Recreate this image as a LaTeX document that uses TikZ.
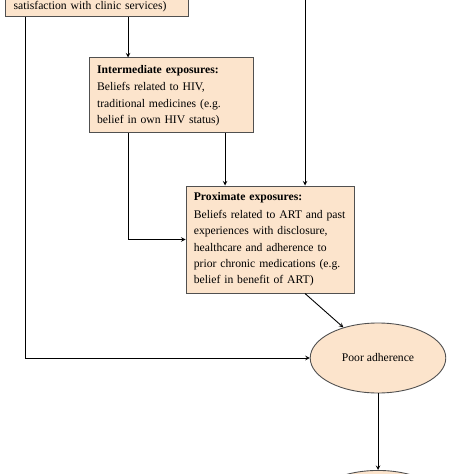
\documentclass[tikz,border=0pt]{standalone}
\usepackage{fontspec}
\setmainfont{Liberation Serif}
\usetikzlibrary{shapes.geometric, arrows, positioning}
\definecolor{peach}{RGB}{252,228,204}
\definecolor{frame}{RGB}{80,80,80}
\tikzstyle{exposure} = [rectangle, draw=frame, line width=0.9pt, fill=peach, inner xsep=7pt, inner ysep=4pt, align=left, font=\fontsize{10.5}{14.8}\selectfont]
\tikzstyle{outcome} = [ellipse, draw=frame, line width=0.8pt, fill=peach, minimum width=122pt, minimum height=63pt, font=\fontsize{10.5}{12}\selectfont]
\tikzstyle{arrow} = [thick,->,>=stealth]

\begin{document}
\begin{tikzpicture}[x=0.9pt, y=-0.9pt]
		\clip (0,0) rectangle (474,474);
		\fill[white] (0,0) rectangle (474,474);
		\node (distal) [exposure, anchor=south west, minimum width=164.7pt, text width=150pt] at (5,17) {\rule{0pt}{30pt}satisfaction with clinic services)};
		\coordinate (social) at (305,-10);
		\node (inter) [exposure, minimum width=147.6pt, minimum height=67.5pt, text width=133pt] at (171,95.5) {\textbf{Intermediate exposures:}\\[1pt] Beliefs related to HIV,\\ traditional medicines (e.g.\\ belief in own HIV status)};
		\node (prox) [exposure, minimum width=152pt, minimum height=96.3pt, text width=138pt] at (270.5,239.5) {\textbf{Proximate exposures:}\\[1pt] Beliefs related to ART and past\\ experiences with disclosure,\\ healthcare and adherence to\\ prior chronic medications (e.g.\\ belief in benefit of ART)};
		\node (poor) [outcome] at (378,358) {Poor adherence};
		\node (next) [outcome, anchor=north] at (378,470) {};
		\draw [arrow] (distal.south -| 128,0) -- (inter.north -| 128,0);
		\draw [arrow] (distal.south -| 25,0) |- (poor.west);
		\draw [arrow] (inter.south -| 128,0) |- (prox.west);
		\draw [arrow] (inter.south -| 225,0) -- (prox.north -| 225,0);
		\draw [arrow] (social) -- (prox.north -| 305,0);
		\draw [arrow] (prox.south -| 305,0) -- (poor);
		\draw [arrow] (poor.south) -- (next.north);
	\end{tikzpicture}
\end{document}
